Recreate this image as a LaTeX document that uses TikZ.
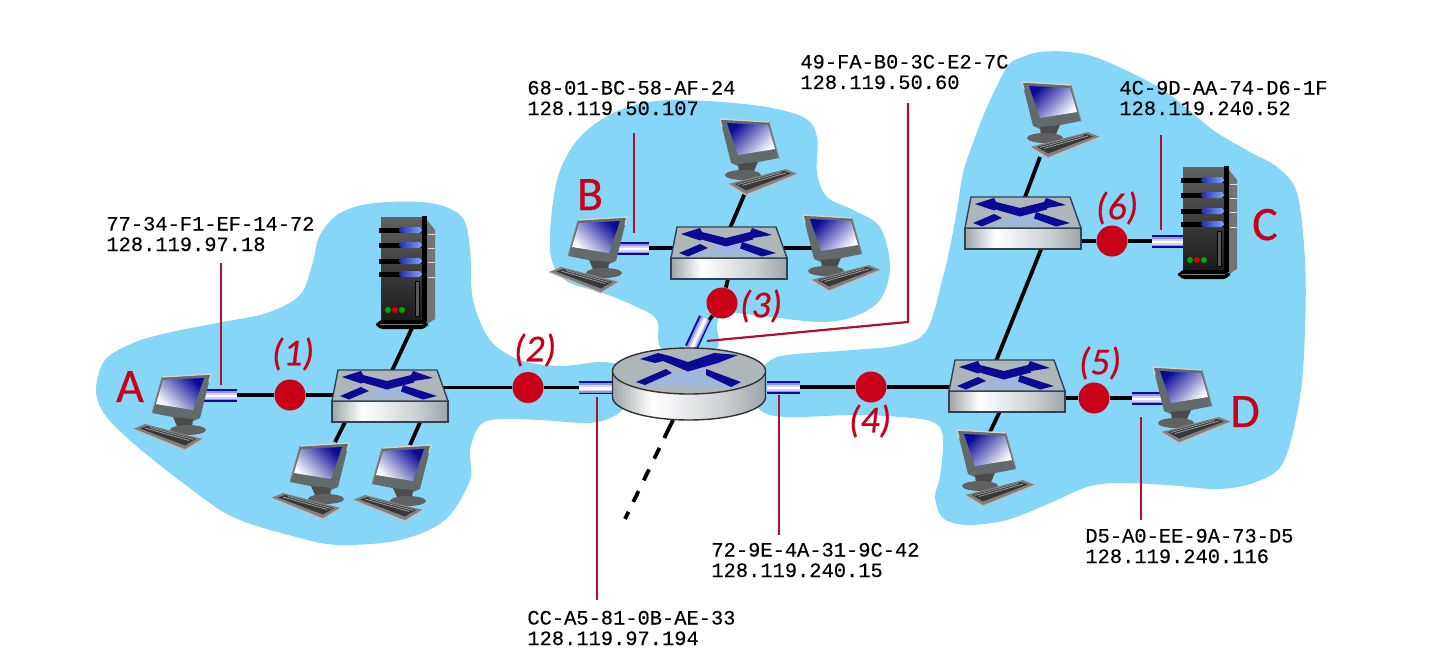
\documentclass[tikz,border=0pt]{standalone}
\usepackage{fontspec}
\newfontfamily\addrfont[FakeBold=0.25]{Liberation Mono}
\newfontfamily\redfont[FakeBold=0.35]{Carlito}
\usetikzlibrary{calc}
\definecolor{cloudblue}{HTML}{86D6F8}
\definecolor{linkred}{HTML}{C80018}
\definecolor{leadred}{HTML}{B01030}
\definecolor{arrownavy}{HTML}{0A0A96}
\definecolor{arrowlight}{HTML}{9DB8DC}
\definecolor{boxtop}{HTML}{AFB6BA}
\definecolor{boxline}{HTML}{2E4257}
\definecolor{framegray}{HTML}{626A6C}
\definecolor{adpmid}{HTML}{9494E4}
\definecolor{adplight}{HTML}{D2D2FA}
\definecolor{ledblue}{HTML}{7FA8FF}
\pgfdeclarehorizontalshading{boxfront}{100bp}{
  color(0bp)=(boxtop); color(25bp)=(boxtop!90!black); color(38bp)=(white); color(60bp)=(boxtop!60!white); color(75bp)=(boxtop!90!black); color(100bp)=(boxtop)}
\tikzset{
  cloud fill/.style={fill=cloudblue,draw=none},
  wire/.style={line width=1.9pt,black},
  dashwire/.style={line width=1.9pt,black,dash pattern=on 10pt off 5.5pt on 6pt off 6pt on 6pt off 6pt on 6pt off 5.5pt on 4pt off 20pt},
  leader/.style={line width=1.1pt,leadred},
  reddot/.style={circle,fill=linkred,draw=none,minimum size=15.5pt,inner sep=0pt},
  hub/.style={inner sep=0pt,minimum size=1pt,draw=none},
  addr/.style={font=\addrfont\fontsize{10.2}{10.25}\selectfont,align=left,anchor=base west,inner sep=0pt,text=black},
  hostname/.style={font=\redfont\fontsize{24}{24}\selectfont,text=linkred,anchor=base,inner sep=0pt},
  stepname/.style={font=\redfont\itshape\fontsize{19}{19}\selectfont,text=linkred,inner sep=0pt},
  pics/adp/.style={code={
    \fill[arrownavy] (-16.5,-6.5) rectangle (16.5,6.5);
    \fill[adpmid] (-16.5,-4.5) rectangle (16.5,5);
    \fill[adplight] (-16.5,-2.5) rectangle (16.5,3.5);
    \fill[white] (-16.5,-0.5) rectangle (16.5,2);
  }},
  pics/comp/.style={code={
    \fill[framegray] (-18,-20) -- (31,-23) -- (20,21) -- (13,24) -- (-28,16) -- cycle;
    \draw[line width=.7pt,black!18] (-18,-20) -- (31,-23) -- (29,-15);
    \draw[line width=.5pt,black!45] (-18,-20) -- (-28,16);
    \shade[top color=arrownavy,middle color=arrownavy!42!white,bottom color=white,shading angle=#1]
      (-17,-17) -- (24,-19) -- (13,13) -- (-24,7) -- cycle;
    \fill[black!70] (-7,20) -- (13,22) -- (12,31) -- (-3,29) -- cycle;
    \fill[black!62] (8,33) ellipse (18 and 5);
    \fill[black!50] (-47,32) -- (-35,27) -- (23,42) -- (5,53) -- cycle;
    \fill[black!78] (-40,31.5) -- (-33,29) -- (16,42) -- (5,48.5) -- cycle;
    \draw[line width=.35pt,black!35] (-35,31) -- (9,43.5) (-30,30.5) -- (13,42.5);
    \draw[line width=.6pt,black!25] (-47,32) -- (5,53) -- (23,42);
  }},
  pics/srv/.style={code={
    \fill[black!55] (26,-52) -- (34,-42) -- (34,47) -- (26,52) -- cycle;
    \draw[line width=.5pt,black!15] (27,-24) -- (34,-24) (27,-10) -- (34,-10) (27,5) -- (34,5) (27,-38) -- (34,-38);
    \shade[top color=black!62,bottom color=black!90] (-20,-55) rectangle (22,50);
    \fill[black] (21,-56) rectangle (26,50);
    \foreach \yy in {-42,-27,-11,2}{
      \fill[black] (-22,\yy-2.5) rectangle (21,\yy+2.5);
      \shade[left color=arrownavy!80!ledblue,right color=ledblue,rounded corners=1.5pt] (-2,\yy-3) rectangle (21,\yy+3);
    }
    \fill[black] (14,9) rectangle (19,45);
    \fill[black!65] (15.3,10) rectangle (17.6,44);
    \fill[green!65!black] (-13,38) circle (3);
    \fill[red!85!black] (-6,38) circle (3);
    \fill[green!65!black] (1,38) circle (3);
    \fill[black,rounded corners=3.5pt] (-25,48) rectangle (27,57);
    \draw[line width=.4pt,black!50] (-21,52.5) -- (22,52.5);
  }},
  pics/swbox/.style={code={
    \shade[shading=boxfront,draw=boxline,line width=.7pt] (-58,5) rectangle (58,26);
    \fill[boxtop,draw=boxline,line width=.7pt] (-52,-26) -- (47,-26) -- (58,5) -- (-58,5) -- cycle;
    \fill[arrowlight] (-3,-9) -- (13,-8) -- (26,2) -- (-34,2) -- cycle;
    \fill[arrownavy] (-48,-19) -- (-29,-25) -- (-27,-21) -- (-3,-15) -- (21,-21) -- (23,-25) -- (43,-18) -- (24,-15) -- (24,-13.5) -- (-3,-6.5) -- (-24,-12.5) -- (-27,-13.5) -- (-29,-12.5) -- cycle;
    \fill[arrownavy] (-50,0) -- (-29,-9) -- (-21,-5) -- (-41,3.5) -- cycle;
    \fill[arrownavy] (13,-11) -- (47,0) -- (33,3.5) -- (11,-4.5) -- cycle;
  }},
  pics/rtr/.style={code={
    \shade[shading=boxfront,draw=black!80,line width=.7pt] (-76.5,0) -- (-76.5,26) arc[start angle=180,end angle=0,x radius=76.5,y radius=23] -- (76.5,0) -- cycle;
    \fill[boxtop,draw=black!80,line width=.7pt] (0,0) ellipse (76.5 and 23);
    \fill[arrowlight] (-1,0) -- (17,-2) -- (42,16) -- (-44,14) -- (-17,2) -- cycle;
    \fill[arrownavy] (-49,-12) -- (-31,-18) -- (-19,-15) -- (-1,-9) -- (25,-18) -- (49,-16) -- (29,-8) -- (-1,0.5) -- (-26,-10) -- (-34,-8) -- cycle;
    \fill[arrownavy] (-53,11) -- (-23,-2) -- (-17,2) -- (-44,14) -- cycle;
    \fill[arrownavy] (17,-2) -- (52,11) -- (42,16) -- (17,4) -- cycle;
  }}
}
\begin{document}
\begin{tikzpicture}[x=0.5pt,y=-0.5pt]
\path[use as bounding box,fill=white] (0,0) rectangle (1432,669);

% ---- the three shaded subnets
\fill[cloud fill] plot[smooth cycle,tension=0.55] coordinates {
 (96,390) (105,360) (133,343) (167,333) (217,323) (267,313) (300,295) (312,265) (320,235) (340,213)
 (375,203) (430,203) (462,217) (470,250) (473,300) (490,340) (520,360) (560,366) (603,362) (625,370)
 (625,405) (610,418) (587,423) (540,420) (500,419) (480,425) (470,450) (470,480) (445,520) (400,540)
 (340,545) (300,538) (233,517) (183,483) (133,443) (105,415)};
\fill[cloud fill] plot[smooth cycle,tension=0.55] coordinates {
 (663,350) (657,320) (637,307) (603,293) (565,280) (550,250) (557,180) (580,137) (620,110) (670,100)
 (753,105) (803,117) (817,137) (817,173) (827,197) (853,210) (880,227) (890,267) (880,300) (853,317)
 (820,322) (770,317) (727,313) (717,323) (715,350)};
\fill[cloud fill] plot[smooth cycle,tension=0.55] coordinates {
 (750,385) (767,363) (787,355) (853,350) (900,345) (927,330) (943,277) (950,247) (957,210) (963,173)
 (973,143) (987,107) (1007,67) (1020,58) (1040,52) (1070,52) (1103,60) (1163,90) (1213,130) (1250,152)
 (1277,167) (1297,193) (1305,260) (1305,330) (1300,397) (1283,463) (1253,483) (1217,489) (1167,485) (1117,483)
 (1087,487) (1050,503) (1007,520) (967,525) (943,518) (935,497) (940,477) (943,437) (933,422) (900,417)
 (853,415) (787,417) (760,410)};

% ---- named positions
\node[hub] (rt) at (689,371) {};
\node[hub] (swA) at (390,396) {};
\node[hub] (swB) at (729,253) {};
\node[hub] (swC) at (1023,223) {};
\node[hub] (swD) at (1007,386) {};
\node[hub] (srvA) at (401,272) {};
\node[hub] (srvC) at (1203,222) {};
\node[hub] (pcA) at (180,397) {};
\node[hub] (pcA1) at (318,466) {};
\node[hub] (pcA2) at (400,468) {};
\node[hub] (pcB) at (596,240) {};
\node[hub] (pcB1) at (751,142) {};
\node[hub] (pcB2) at (834,238) {};
\node[hub] (pcC1) at (1053,105) {};
\node[hub] (pcD) at (1184,390) {};
\node[hub] (pcD1) at (988,453) {};
\node[hub] (adA) at (220.5,395) {};
\node[hub] (adB) at (632,248) {};
\node[hub] (adC) at (1168,241) {};
\node[hub] (adD) at (1148,398) {};
\node[hub] (adR1) at (595,387.5) {};
\node[hub] (adR2) at (783,387) {};
\node[hub] (adR3) at (698,333) {};
\node[reddot] (d1) at (290,395) {};
\node[reddot] (d2) at (528,387.5) {};
\node[reddot] (d3) at (722,303) {};
\node[reddot] (d4) at (871,387) {};
\node[reddot] (d5) at (1094,398) {};
\node[reddot] (d6) at (1112,241) {};
\coordinate (swA-w) at (345,395);
\coordinate (swA-e) at (438,387.5);
\coordinate (swA-n) at (390,375);
\coordinate (swA-s1) at (347,418);
\coordinate (swA-s2) at (422,418);
\coordinate (srvA-s) at (412,328);
\coordinate (pcA1-n) at (335,442);
\coordinate (pcA2-n) at (410,445);
\coordinate (swB-n) at (727,235);
\coordinate (swB-s) at (729,275);
\coordinate (pcB1-s) at (745,193);
\coordinate (swB-w) at (680,248);
\coordinate (swB-e) at (775,248);
\coordinate (pcB2-w) at (822,248);
\coordinate (swC-n) at (1022,205);
\coordinate (swC-s) at (1042,247);
\coordinate (swC-e) at (1078,241);
\coordinate (pcC1-s) at (1040,157);
\coordinate (swD-n) at (994,366);
\coordinate (swD-w) at (958,387);
\coordinate (swD-e) at (1062,398);
\coordinate (swD-s) at (1001,409);
\coordinate (pcD1-n) at (990,432);
\coordinate (rt-s) at (673,420);
\coordinate (dashend) at (625,519);
\coordinate (rt-n) at (696,338);

% ---- links
\draw[wire] (adA) -- (d1) -- (swA-w);
\draw[wire] (swA-e) -- (d2) -- (adR1);
\draw[wire] (swA-n) -- (srvA-s);
\draw[wire] (swA-s1) -- (pcA1-n);
\draw[wire] (swA-s2) -- (pcA2-n);
\draw[wire] (adB) -- (swB-w);
\draw[wire] (swB-e) -- (pcB2-w);
\draw[wire] (swB-n) -- (pcB1-s);
\draw[wire] (swB-s) -- (d3) -- (rt-n);
\draw[wire] (adR2) -- (d4) -- (swD-w);
\draw[wire] (swD-n) -- (swC-s);
\draw[wire] (swC-n) -- (pcC1-s);
\draw[wire] (swD-s) -- (pcD1-n);
\draw[wire] (swD-e) -- (d5) -- (adD);
\draw[wire] (swC-e) -- (d6) -- (adC);
\draw[dashwire] (rt-s) -- (dashend);

% ---- leaders to the addresses
\coordinate (t1) at (221,263);   \coordinate (e1) at (221,385);
\coordinate (t2) at (634,133);   \coordinate (e2) at (634,233);
\coordinate (t3) at (908,103);   \coordinate (k3) at (908,322);  \coordinate (e3) at (707,341);
\coordinate (t4) at (1161,135);  \coordinate (e4) at (1161,230);
\coordinate (t5) at (1141,520);  \coordinate (e5) at (1141,417);
\coordinate (t6) at (779,535);   \coordinate (e6) at (779,395);
\coordinate (t7) at (597,600);   \coordinate (e7) at (597,397);
\draw[leader] (t1) -- (e1);
\draw[leader] (t2) -- (e2);
\draw[leader] (t3) -- (k3) -- (e3);
\draw[leader] (t4) -- (e4);
\draw[leader] (t5) -- (e5);
\draw[leader] (t6) -- (e6);
\draw[leader] (t7) -- (e7);

% ---- adapters
\pic at (adA) {adp};
\pic at (adB) {adp};
\pic at (adC) {adp};
\pic at (adD) {adp};
\pic at (adR1) {adp};
\pic at (adR2) {adp};
\pic[rotate=65] at (adR3) {adp};

% ---- devices
\pic at (rt) {rtr};
\pic at (swA) {swbox};
\pic at (swB) {swbox};
\pic at (swC) {swbox};
\pic at (swD) {swbox};
\pic at (srvA) {srv};
\pic at (srvC) {srv};
\pic at (pcA) {comp=-45};
\pic at (pcA1) {comp=-45};
\pic at (pcA2) {comp=-45};
\pic at (pcB) {comp=-45};
\pic[xscale=-1] at (pcB1) {comp=45};
\pic[xscale=-1] at (pcB2) {comp=45};
\pic[xscale=-1] at (pcC1) {comp=45};
\pic[xscale=-1] at (pcD) {comp=45};
\pic[xscale=-1] at (pcD1) {comp=45};

% ---- labels
\node[hostname] (lA) at (130,402) {A};
\node[hostname] (lB) at (590,210) {B};
\node[hostname] (lC) at (1265,240) {C};
\node[hostname] (lD) at (1245,427) {D};
\node[stepname] (n1) at (293,354) {(1)};
\node[stepname] (n2) at (535,350) {(2)};
\node[stepname] (n3) at (761,306) {(3)};
\node[stepname] (n4) at (870,421) {(4)};
\node[stepname] (n5) at (1100,363) {(5)};
\node[stepname] (n6) at (1117,208) {(6)};

\node[addr] (a1) at (106,251) {77-34-F1-EF-14-72\\128.119.97.18};
\node[addr] (a2) at (527,115) {68-01-BC-58-AF-24\\128.119.50.107};
\node[addr] (a3) at (800,89) {49-FA-B0-3C-E2-7C\\128.119.50.60};
\node[addr] (a4) at (1119,115) {4C-9D-AA-74-D6-1F\\128.119.240.52};
\node[addr] (a5) at (1085,563) {D5-A0-EE-9A-73-D5\\128.119.240.116};
\node[addr] (a6) at (711,577) {72-9E-4A-31-9C-42\\128.119.240.15};
\node[addr] (a7) at (527,645) {CC-A5-81-0B-AE-33\\128.119.97.194};
\end{tikzpicture}
\end{document}
